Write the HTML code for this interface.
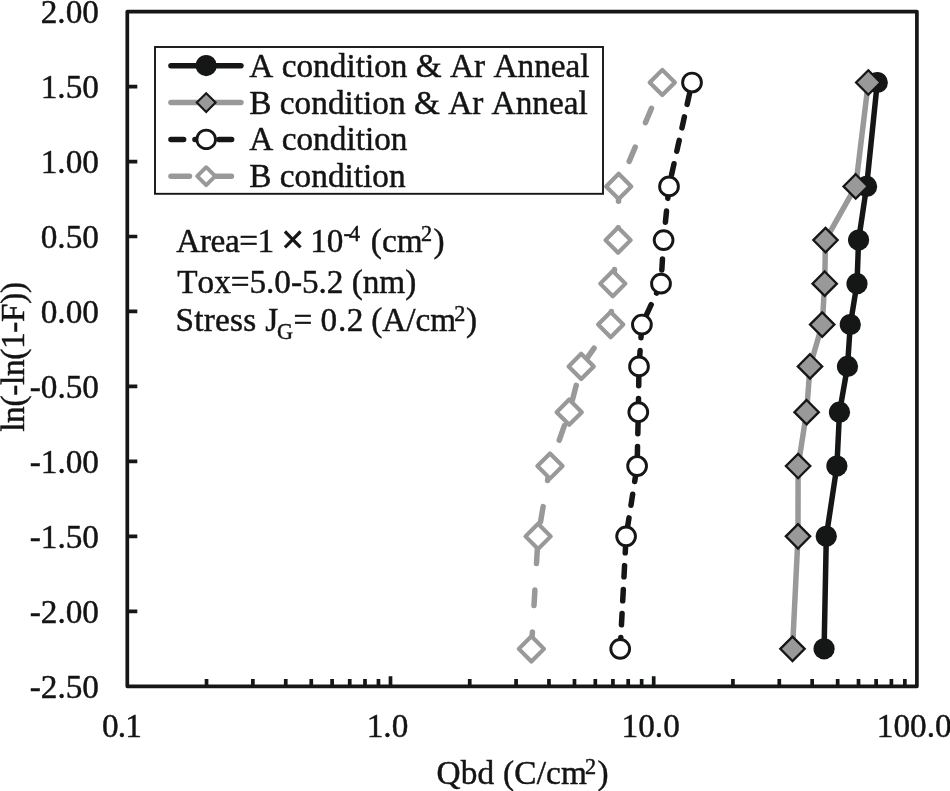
<!DOCTYPE html>
<html><head><meta charset="utf-8"><style>html,body{margin:0;padding:0;background:#fff}svg{display:block}</style></head>
<body><svg width="950" height="791" viewBox="0 0 950 791">
<rect width="950" height="791" fill="#fff"/>
<path d="M206.53 686.30V678.90M252.88 686.30V678.90M285.76 686.30V678.90M311.27 686.30V678.90M332.11 686.30V678.90M349.73 686.30V678.90M364.99 686.30V678.90M378.46 686.30V678.90M469.73 686.30V678.90M516.08 686.30V678.90M548.96 686.30V678.90M574.47 686.30V678.90M595.31 686.30V678.90M612.93 686.30V678.90M628.19 686.30V678.90M641.66 686.30V678.90M390.50 686.30V676.30M732.93 686.30V678.90M779.28 686.30V678.90M812.16 686.30V678.90M837.67 686.30V678.90M858.51 686.30V678.90M876.13 686.30V678.90M891.39 686.30V678.90M904.86 686.30V678.90M653.70 686.30V676.30M127.30 86.57H137.30M127.30 161.53H137.30M127.30 236.50H137.30M127.30 311.47H137.30M127.30 386.43H137.30M127.30 461.40H137.30M127.30 536.37H137.30M127.30 611.33H137.30" stroke="#151616" stroke-width="3.7" fill="none"/>
<rect x="127.3" y="11.6" width="789.60" height="674.70" fill="none" stroke="#151616" stroke-width="3.7" stroke-linejoin="round"/>
<path d="M877.30 82.49 L866.60 186.42 L858.60 240.12 L857.00 283.64 L850.30 324.57 L847.50 366.42 L839.50 412.18 L836.90 466.04 L826.30 536.36 L824.10 648.87" fill="none" stroke="#151616" stroke-width="5.5" stroke-linejoin="round" stroke-linecap="round"/>
<circle cx="877.30" cy="82.49" r="10.6" fill="#151616"/>
<circle cx="866.60" cy="186.42" r="10.6" fill="#151616"/>
<circle cx="858.60" cy="240.12" r="10.6" fill="#151616"/>
<circle cx="857.00" cy="283.64" r="10.6" fill="#151616"/>
<circle cx="850.30" cy="324.57" r="10.6" fill="#151616"/>
<circle cx="847.50" cy="366.42" r="10.6" fill="#151616"/>
<circle cx="839.50" cy="412.18" r="10.6" fill="#151616"/>
<circle cx="836.90" cy="466.04" r="10.6" fill="#151616"/>
<circle cx="826.30" cy="536.36" r="10.6" fill="#151616"/>
<circle cx="824.10" cy="648.87" r="10.6" fill="#151616"/>
<path d="M868.30 82.49 L855.70 186.42 L825.50 240.12 L824.70 283.64 L822.20 324.57 L810.00 366.42 L806.60 412.18 L798.10 466.04 L798.00 536.36 L792.50 648.87" fill="none" stroke="#999" stroke-width="5.5" stroke-linejoin="round" stroke-linecap="round"/>
<path d="M868.30 70.29L880.50 82.49L868.30 94.69L856.10 82.49Z" fill="#999" stroke="#151616" stroke-width="2.3" stroke-linejoin="miter"/>
<path d="M855.70 174.22L867.90 186.42L855.70 198.62L843.50 186.42Z" fill="#999" stroke="#151616" stroke-width="2.3" stroke-linejoin="miter"/>
<path d="M825.50 227.92L837.70 240.12L825.50 252.32L813.30 240.12Z" fill="#999" stroke="#151616" stroke-width="2.3" stroke-linejoin="miter"/>
<path d="M824.70 271.44L836.90 283.64L824.70 295.84L812.50 283.64Z" fill="#999" stroke="#151616" stroke-width="2.3" stroke-linejoin="miter"/>
<path d="M822.20 312.37L834.40 324.57L822.20 336.77L810.00 324.57Z" fill="#999" stroke="#151616" stroke-width="2.3" stroke-linejoin="miter"/>
<path d="M810.00 354.22L822.20 366.42L810.00 378.62L797.80 366.42Z" fill="#999" stroke="#151616" stroke-width="2.3" stroke-linejoin="miter"/>
<path d="M806.60 399.98L818.80 412.18L806.60 424.38L794.40 412.18Z" fill="#999" stroke="#151616" stroke-width="2.3" stroke-linejoin="miter"/>
<path d="M798.10 453.84L810.30 466.04L798.10 478.24L785.90 466.04Z" fill="#999" stroke="#151616" stroke-width="2.3" stroke-linejoin="miter"/>
<path d="M798.00 524.16L810.20 536.36L798.00 548.56L785.80 536.36Z" fill="#999" stroke="#151616" stroke-width="2.3" stroke-linejoin="miter"/>
<path d="M792.50 636.67L804.70 648.87L792.50 661.07L780.30 648.87Z" fill="#999" stroke="#151616" stroke-width="2.3" stroke-linejoin="miter"/>
<path d="M692.00 82.49 L669.00 186.42 L663.60 240.12 L661.00 283.64 L641.90 324.57 L639.00 366.42 L638.30 412.18 L637.10 466.04 L626.10 536.36 L620.20 648.87" fill="none" stroke="#151616" stroke-width="5.5" stroke-linejoin="round" stroke-linecap="round" stroke-dasharray="11.2 12.8" stroke-dashoffset="12.75"/>
<circle cx="692.00" cy="82.49" r="9.4" fill="#fff" stroke="#151616" stroke-width="2.9"/>
<circle cx="669.00" cy="186.42" r="9.4" fill="#fff" stroke="#151616" stroke-width="2.9"/>
<circle cx="663.60" cy="240.12" r="9.4" fill="#fff" stroke="#151616" stroke-width="2.9"/>
<circle cx="661.00" cy="283.64" r="9.4" fill="#fff" stroke="#151616" stroke-width="2.9"/>
<circle cx="641.90" cy="324.57" r="9.4" fill="#fff" stroke="#151616" stroke-width="2.9"/>
<circle cx="639.00" cy="366.42" r="9.4" fill="#fff" stroke="#151616" stroke-width="2.9"/>
<circle cx="638.30" cy="412.18" r="9.4" fill="#fff" stroke="#151616" stroke-width="2.9"/>
<circle cx="637.10" cy="466.04" r="9.4" fill="#fff" stroke="#151616" stroke-width="2.9"/>
<circle cx="626.10" cy="536.36" r="9.4" fill="#fff" stroke="#151616" stroke-width="2.9"/>
<circle cx="620.20" cy="648.87" r="9.4" fill="#fff" stroke="#151616" stroke-width="2.9"/>
<path d="M662.30 82.49 L618.70 186.42 L618.10 240.12 L612.80 283.64 L610.70 324.57 L581.20 366.42 L569.20 412.18 L550.00 466.04 L538.10 536.36 L531.40 648.87" fill="none" stroke="#999" stroke-width="5.5" stroke-linejoin="round" stroke-linecap="round" stroke-dasharray="15.5 26.5" stroke-dashoffset="13.95"/>
<path d="M662.30 69.89L674.90 82.49L662.30 95.09L649.70 82.49Z" fill="#fff" stroke="#999" stroke-width="4.2" stroke-linejoin="round"/>
<path d="M618.70 173.82L631.30 186.42L618.70 199.02L606.10 186.42Z" fill="#fff" stroke="#999" stroke-width="4.2" stroke-linejoin="round"/>
<path d="M618.10 227.52L630.70 240.12L618.10 252.72L605.50 240.12Z" fill="#fff" stroke="#999" stroke-width="4.2" stroke-linejoin="round"/>
<path d="M612.80 271.04L625.40 283.64L612.80 296.24L600.20 283.64Z" fill="#fff" stroke="#999" stroke-width="4.2" stroke-linejoin="round"/>
<path d="M610.70 311.97L623.30 324.57L610.70 337.17L598.10 324.57Z" fill="#fff" stroke="#999" stroke-width="4.2" stroke-linejoin="round"/>
<path d="M581.20 353.82L593.80 366.42L581.20 379.02L568.60 366.42Z" fill="#fff" stroke="#999" stroke-width="4.2" stroke-linejoin="round"/>
<path d="M569.20 399.58L581.80 412.18L569.20 424.78L556.60 412.18Z" fill="#fff" stroke="#999" stroke-width="4.2" stroke-linejoin="round"/>
<path d="M550.00 453.44L562.60 466.04L550.00 478.64L537.40 466.04Z" fill="#fff" stroke="#999" stroke-width="4.2" stroke-linejoin="round"/>
<path d="M538.10 523.76L550.70 536.36L538.10 548.96L525.50 536.36Z" fill="#fff" stroke="#999" stroke-width="4.2" stroke-linejoin="round"/>
<path d="M531.40 636.27L544.00 648.87L531.40 661.47L518.80 648.87Z" fill="#fff" stroke="#999" stroke-width="4.2" stroke-linejoin="round"/>
<g style="font-family:'Liberation Serif','Times New Roman',serif;font-kerning:none;font-size:33.3px" fill="#131414" stroke="#131414" stroke-width="0.45">
<text x="99" y="22.90" text-anchor="end">2.00</text>
<text x="99" y="97.87" text-anchor="end">1.50</text>
<text x="99" y="172.83" text-anchor="end">1.00</text>
<text x="99" y="247.80" text-anchor="end">0.50</text>
<text x="99" y="322.77" text-anchor="end">0.00</text>
<text x="99" y="397.73" text-anchor="end">-0.50</text>
<text x="99" y="472.70" text-anchor="end">-1.00</text>
<text x="99" y="547.67" text-anchor="end">-1.50</text>
<text x="99" y="622.63" text-anchor="end">-2.00</text>
<text x="99" y="697.60" text-anchor="end">-2.50</text>
<text x="101.9" y="737.4" textLength="40" lengthAdjust="spacing">0.1</text>
<text x="387.50" y="737.4" text-anchor="middle">1.0</text>
<text x="650.70" y="737.4" text-anchor="middle">10.0</text>
<text x="914.20" y="737.4" text-anchor="middle">100.0</text>
<text x="436.5" y="784.2" textLength="150.5" lengthAdjust="spacing">Qbd (C/cm</text>
<text x="584.9" y="773.9" font-size="22.2">2</text>
<text x="597.4" y="784.2">)</text>
<text transform="translate(23.6 431.8) rotate(-90)" textLength="149.9" lengthAdjust="spacing">ln(-ln(1-F))</text>
<text x="176.3" y="251.6" textLength="97.9" lengthAdjust="spacing">Area=1</text>
<text x="292.7" y="248.7" text-anchor="middle" font-family="DejaVu Sans,sans-serif" font-size="29.8" stroke-width="0.75">×</text>
<text x="310.2" y="251.6">10</text>
<text x="343.4" y="241.3" font-size="22.2" textLength="16.6" lengthAdjust="spacing">-4</text>
<text x="370.8" y="251.6">(cm</text>
<text x="421.0" y="241.4" font-size="22.2">2</text>
<text x="433.5" y="251.6">)</text>
<text x="177.3" y="292.9" textLength="239.0" lengthAdjust="spacing">Tox=5.0-5.2 (nm)</text>
<text x="175.4" y="330.8" textLength="102.7" lengthAdjust="spacing">Stress J</text>
<text x="277.1" y="339.1" font-size="22.2">G</text>
<text x="293.5" y="330.8">=</text>
<text x="320.6" y="330.8" textLength="42.9" lengthAdjust="spacing">0.2</text>
<text x="371.2" y="330.8">(A/cm</text>
<text x="454.2" y="320.5" font-size="22.2">2</text>
<text x="466.0" y="330.8">)</text>
</g>
<rect x="155" y="47" width="448" height="146.8" fill="#fff" stroke="#151616" stroke-width="1.9"/>
<path d="M170.95000000000002 65.8H240.95" stroke="#151616" stroke-width="5.5" stroke-linecap="round"/>
<circle cx="206.20" cy="65.60" r="10.6" fill="#151616"/>
<path d="M170.95000000000002 102.6H240.95" stroke="#999" stroke-width="5.5" stroke-linecap="round"/>
<path d="M206.20 93.20L215.60 102.60L206.20 112.00L196.80 102.60Z" fill="#999" stroke="#151616" stroke-width="2.1" stroke-linejoin="miter"/>
<path d="M170.95000000000002 139.4H240.95" stroke="#151616" stroke-width="5.5" stroke-linecap="round" stroke-dasharray="12.7 11.3"/>
<circle cx="206.20" cy="139.40" r="9.3" fill="#fff" stroke="#151616" stroke-width="2.8"/>
<path d="M170.95000000000002 176.2H240.95" stroke="#999" stroke-width="5.5" stroke-linecap="round" stroke-dasharray="18.5 23.5"/>
<path d="M206.20 167.20L215.20 176.20L206.20 185.20L197.20 176.20Z" fill="#fff" stroke="#999" stroke-width="3.9" stroke-linejoin="round"/>
<g style="font-family:'Liberation Serif','Times New Roman',serif;font-kerning:none;font-size:33.3px" fill="#131414" stroke="#131414" stroke-width="0.45">
<text x="249.3" y="76.80">A condition &amp; Ar Anneal</text>
<text x="249.3" y="113.60">B condition &amp; Ar Anneal</text>
<text x="249.3" y="150.40">A condition</text>
<text x="249.3" y="187.20">B condition</text>
</g>
</svg></body></html>
